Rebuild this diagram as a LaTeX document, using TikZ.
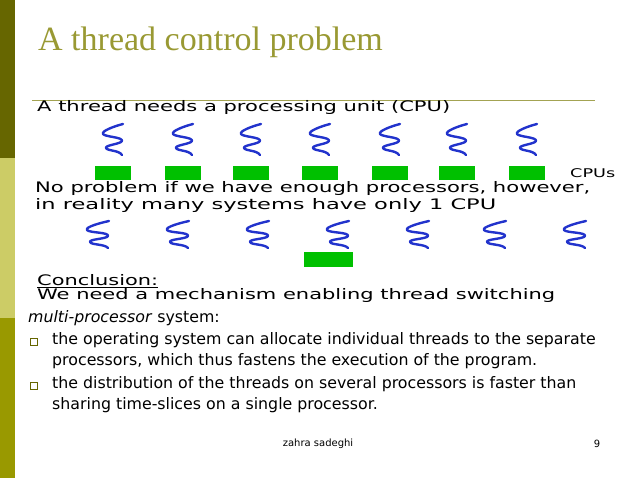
\documentclass[tikz,border=0pt]{standalone}
\usepackage{fontspec}
\setmainfont{DejaVu Sans}
\newfontfamily\titlefont{Liberation Serif}
\definecolor{barA}{HTML}{666600}
\definecolor{barB}{HTML}{CCCC66}
\definecolor{barC}{HTML}{999900}
\definecolor{ttl}{HTML}{999933}
\definecolor{cpu}{HTML}{00C000}
\definecolor{thr}{HTML}{2233CC}
\newcommand{\fitw}[2]{\resizebox{#1}{\height}{#2}}
\begin{document}
\begin{tikzpicture}[x=1pt,y=-1pt,
  img/.style={anchor=west,inner sep=0pt,font=\fontsize{14.5}{16}\selectfont},
  body/.style={anchor=west,inner sep=0pt,font=\fontsize{15.8}{21}\selectfont},
  cpubox/.style={fill=cpu,draw=none},
  thread/.style={thr,line width=2.4pt,line cap=round,line join=round},
  bul/.style={draw=barA,line width=1.3pt,fill=none,minimum size=7pt,inner sep=0pt}]
\useasboundingbox (0,0) rectangle (638,478);
\fill[barA] (0,0) rectangle (15,158);
\fill[barB] (0,158) rectangle (15,318);
\fill[barC] (0,318) rectangle (15,478);
\node[anchor=west,inner sep=0pt,text=ttl,font=\titlefont\fontsize{34}{36}\selectfont] (title) at (38,42) {A thread control problem};
\draw[barB!80!black,line width=0.6pt] (32,100) -- (595,100);
\node[img] (t1) at (37,108) {\fitw{413pt}{A thread needs a processing unit (CPU)}};
\foreach \x/\n in {113/a,183/b,251/c,320/d,390/e,457/f,527/g}{
  \draw[thread,shift={(\x,123)}]
    (10,1) .. controls (2,3) and (-12,8) .. (-10,11) .. controls (-8,14) and (10,14) .. (9,18)
    .. controls (8,21) and (-8,22) .. (-7,25) .. controls (-6,28) and (6,27) .. (9,32);
  \node[cpubox,minimum width=36pt,minimum height=14pt,inner sep=0pt] (c\n) at (\x,173) {};
}
\node[img] (cpus) at (570,173) {\fitw{45pt}{\fontsize{12}{13}\selectfont CPUs}};
\node[img] (t2) at (35,189) {\fitw{555pt}{No problem if we have enough processors, however,}};
\node[img] (t3) at (35,206) {\fitw{461pt}{in reality many systems have only 1 CPU}};
\foreach \x in {98,178,258,338,418,495,575}{
  \draw[thread,shift={(\x,220)}]
    (11,1) .. controls (2,3) and (-13,7) .. (-11,10) .. controls (-9,13) and (11,12) .. (10,16)
    .. controls (9,19) and (-9,19) .. (-8,22) .. controls (-7,25) and (7,24) .. (10,28);
}
\node[cpubox,minimum width=49pt,minimum height=15pt,inner sep=0pt] (one) at (328,259.5) {};
\node[img] (concl) at (37,281) {\fitw{121pt}{\underline{Conclusion:}}};
\node[img] (t4) at (37,296) {\fitw{518pt}{We need a mechanism enabling thread switching}};
\node[body] (mp) at (28,318) {\textit{multi-processor} system:};
\node[bul] (b1) at (34,342) {};
\node[body,align=left,anchor=north west] (l1) at (52,332) {the operating system can allocate individual threads to the separate\\processors, which thus fastens the execution of the program.};
\node[bul] (b2) at (34,386) {};
\node[body,align=left,anchor=north west] (l2) at (52,376) {the distribution of the threads on several processors is faster than\\sharing time-slices on a single processor.};
\node[font=\fontsize{10}{11}\selectfont] (foot) at (318,444) {zahra sadeghi};
\node[font=\fontsize{10}{11}\selectfont] (pg) at (597,444) {9};
\end{tikzpicture}
\end{document}
